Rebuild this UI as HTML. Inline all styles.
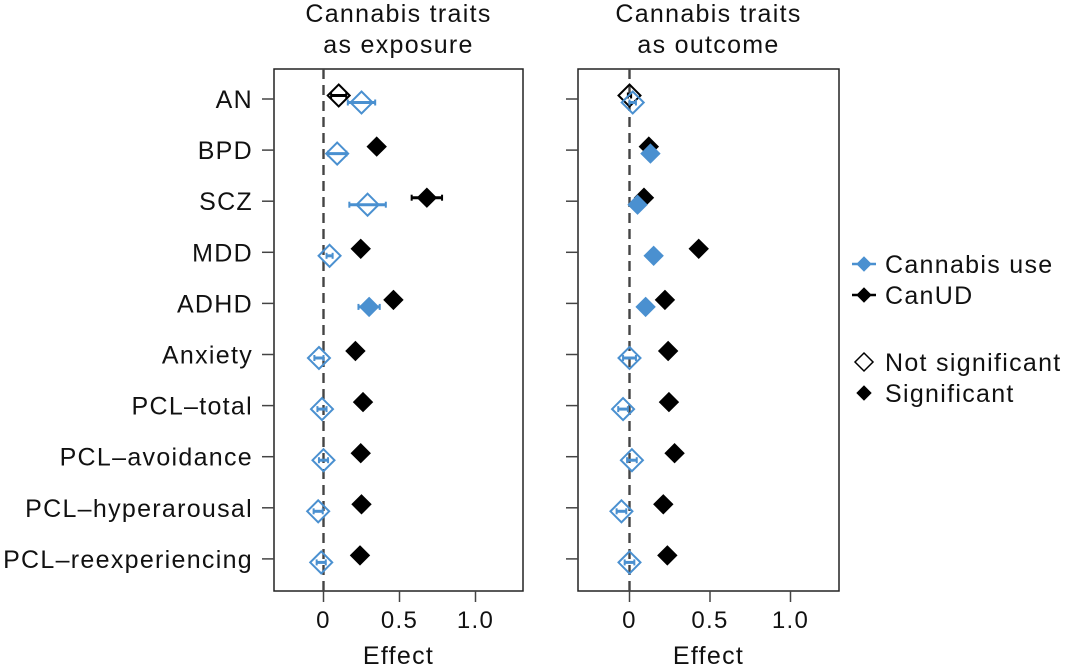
<!DOCTYPE html>
<html><head><meta charset="utf-8"><style>
html,body{margin:0;padding:0;background:#fff;}
svg{display:block;font-family:"Liberation Sans",sans-serif;}
svg text{letter-spacing:1.3px;}
</style></head><body>
<svg id="chart" width="1069" height="665" viewBox="0 0 1069 665" xmlns="http://www.w3.org/2000/svg"></svg>
<script>
const traits = ["AN","BPD","SCZ","MDD","ADHD","Anxiety","PCL\u2013total","PCL\u2013avoidance","PCL\u2013hyperarousal","PCL\u2013reexperiencing"];
// Left panel: cannabis traits as exposure
const expUseEst = [0.25,0.09,0.29,0.04,0.30,-0.03,-0.01,0.00,-0.035,-0.015];
const expUseCI  = [0.09,0.06,0.12,0.02,0.07,0.03,0.03,0.03,0.03,0.03];
const expUseSig = [0,0,0,0,1,0,0,0,0,0];
const expUdEst  = [0.10,0.35,0.68,0.245,0.46,0.21,0.26,0.245,0.25,0.24];
const expUdCI   = [0.05,0.04,0.10,0.02,0.03,0.02,0.02,0.02,0.02,0.02];
const expUdSig  = [0,1,1,1,1,1,1,1,1,1];
// Right panel: cannabis traits as outcome
const outUseEst = [0.02,0.13,0.05,0.15,0.10,0.0,-0.04,0.015,-0.05,0.0];
const outUseCI  = [0.02,0.02,0.02,0.02,0.02,0.04,0.03,0.03,0.03,0.03];
const outUseSig = [0,1,1,1,1,0,0,0,0,0];
const outUdEst  = [0.0,0.12,0.09,0.43,0.22,0.24,0.245,0.28,0.21,0.235];
const outUdCI   = [0.01,0.03,0.02,0.02,0.02,0.03,0.02,0.02,0.02,0.02];
const outUdSig  = [0,1,1,1,1,1,1,1,1,1];
const xTicks = [0,0.5,1.0];
const xTickLabels = ["0","0.5","1.0"];

const NS="http://www.w3.org/2000/svg";
const svg=document.getElementById('chart');
const BLUE="#4a90d0";
const FS=25;
function mk(tag,attrs,parent){const e=document.createElementNS(NS,tag);for(const k in attrs)e.setAttribute(k,attrs[k]);(parent||svg).appendChild(e);return e;}
const yRow=i=>99+i*51.1;

function panel(p){
  const g=mk('g',{});
  
  
  const x=v=>p.x0+v*p.k;
  const fr=mk('rect',{x:p.left,y:69,width:p.right-p.left,height:522,fill:'none',stroke:'#222','stroke-width':1.5},g);
  
  
  const zl=mk('line',{x1:x(0),x2:x(0),y1:69,y2:591,stroke:'#444','stroke-width':2.4,'stroke-dasharray':'10,6'},g);
  
  
  traits.forEach((t,i)=>{
    const tk=mk('line',{x1:p.left-12,x2:p.left,y1:yRow(i),y2:yRow(i),stroke:'#444','stroke-width':1.5},g);
    
    
    if(p.labels){
      const tx=mk('text',{x:253,y:yRow(i)+9,'text-anchor':'end','font-size':FS,fill:'#111'},g);
      tx.textContent=t;
      
      
    }
  });
  xTicks.forEach((v,j)=>{
    const tk=mk('line',{x1:x(v),x2:x(v),y1:591,y2:602,stroke:'#444','stroke-width':1.5},g);
    
    
    const tl=mk('text',{x:x(v),y:628,'text-anchor':'middle','font-size':FS-1,fill:'#111'},g);
    tl.textContent=xTickLabels[j];
    
    
  });
  const xt=mk('text',{x:(p.left+p.right)/2,y:664,'text-anchor':'middle','font-size':FS,fill:'#111'},g);
  xt.textContent='Effect';
  
  
  p.title.forEach((s,j)=>{
    const tt=mk('text',{x:(p.left+p.right)/2,y:22+j*31,'text-anchor':'middle','font-size':FS,fill:'#111'},g);
    tt.textContent=s;
    
    
  });
  function series(est,ci,sig,col,dy,nm){
    est.forEach((v,i)=>{
      const y=yRow(i)+dy;
      const cl=mk('line',{x1:x(v-ci[i]),x2:x(v+ci[i]),y1:y,y2:y,stroke:col,'stroke-width':3},g);
      
      
      [v-ci[i],v+ci[i]].forEach(e=>{mk('line',{x1:x(e),x2:x(e),y1:y-3,y2:y+3,stroke:col,'stroke-width':2},g);});
      const cx=x(v);
      const r=sig[i]?9.5:11;
      const d=`M${cx},${y-r}L${cx+r},${y}L${cx},${y+r}L${cx-r},${y}Z`;
      const m=mk('path',{d:d,fill:sig[i]?col:'none',stroke:col,'stroke-width':sig[i]?1:2},g);
      
      
    });
  }
  series(p.ud[0],p.ud[1],p.ud[2],'#000',-3.5,'canud');
  series(p.use[0],p.use[1],p.use[2],BLUE,3.5,'cannabis-use');
}
panel({name:'exposure-panel',left:274,right:523,x0:323.5,k:152,labels:true,title:['Cannabis traits','as exposure'],
  use:[expUseEst,expUseCI,expUseSig],ud:[expUdEst,expUdCI,expUdSig]});
panel({name:'outcome-panel',left:578,right:839,x0:629.5,k:161,labels:false,title:['Cannabis traits','as outcome'],
  use:[outUseEst,outUseCI,outUseSig],ud:[outUdEst,outUdCI,outUdSig]});

// legend
const lg=mk('g',{});


function lgItem(y,col,line,fill,label,nm){
  const it=mk('g',{},lg);
  
  
  if(line)mk('line',{x1:852,x2:876,y1:y,y2:y,stroke:col,'stroke-width':2.5},it);
  const r=fill?7:9,cx=864;
  mk('path',{d:`M${cx},${y-r}L${cx+r},${y}L${cx},${y+r}L${cx-r},${y}Z`,fill:fill?col:'#fff',stroke:col,'stroke-width':fill?1:1.5},it);
  const t=mk('text',{x:885,y:y+9,'font-size':FS,fill:'#111'},it);
  t.textContent=label;
}
lgItem(264,BLUE,true,true,'Cannabis use','legend-cannabis-use');
lgItem(295,'#000',true,true,'CanUD','legend-canud');
lgItem(362,'#000',false,false,'Not significant','legend-not-significant');
lgItem(393,'#000',false,true,'Significant','legend-significant');
</script>
</body></html>
